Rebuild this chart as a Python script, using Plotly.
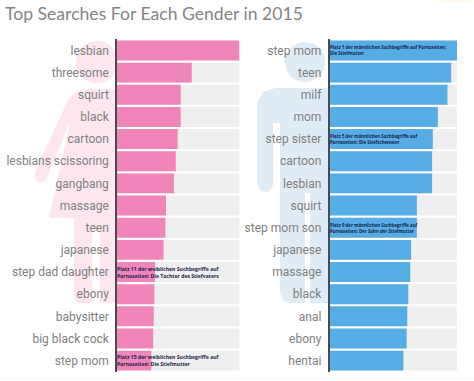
import plotly.graph_objects as go

W, H = 474, 381

female_terms = ["lesbian", "threesome", "squirt", "black", "cartoon", "lesbians scissoring", "gangbang",
                "massage", "teen", "japanese", "step dad daughter", "ebony", "babysitter", "big black cock", "step mom"]
female_values = [100, 61, 52, 52, 49.5, 48, 46.5, 40, 39.5, 38, 31, 30.5, 30, 29.5, 28]

male_terms = ["step mom", "teen", "milf", "mom", "step sister", "cartoon", "lesbian", "squirt", "step mom son",
              "japanese", "massage", "black", "anal", "ebony", "hentai"]
male_values = [100, 95.5, 92.5, 85, 81, 80.5, 80.5, 68.5, 68.5, 64, 63.3, 61.8, 61, 60.5, 58]

scale_max = 100

female_notes = {
    "step dad daughter": "Platz 11 der weiblichen Suchbegriffe auf<br>Pornoseiten: Die Tochter des Stiefvaters",
    "step mom": "Platz 15 der weiblichen Suchbegriffe auf<br>Pornoseiten: Die Stiefmutter",
}
male_notes = {
    "step mom": "Platz 1 der männlichen Suchbegriffe auf Pornoseiten:<br>Die Stiefmutter",
    "step sister": "Platz 5 der männlichen Suchbegriffe auf<br>Pornoseiten: Die Stiefschwester",
    "step mom son": "Platz 9 der männlichen Suchbegriffe auf<br>Pornoseiten: Der Sohn der Stiefmutter",
}

title_text = "Top Searches For Each Gender in 2015"

PINK, BLUE, TRACK = "#f085b9", "#56ade6", "#efefef"
PINK_BG, BLUE_BG = "#fde6f0", "#dfecf6"
LABEL = "#808080"


def px(x):
    return x / W


def py(y):
    return 1 - y / H


def path(points):
    return "M " + " L ".join(f"{px(x):.4f},{py(y):.4f}" for x, y in points) + " Z"


def smooth(d, color):
    return dict(type="path", xref="paper", yref="paper", path=d, fillcolor=color,
                line=dict(width=0), layer="below")


def head(cx, cy, r, color):
    return dict(type="circle", xref="paper", yref="paper", x0=px(cx - r), x1=px(cx + r),
                y0=py(cy + r), y1=py(cy - r), fillcolor=color, line=dict(width=0), layer="below")


def band(x0, x1, y0, y1, color):
    return dict(type="rect", xref="paper", yref="paper", x0=px(x0), x1=px(x1), y0=py(y1), y1=py(y0),
                fillcolor=color, line=dict(width=0), layer="below")


female_body = [(88, 89), (76, 92), (68, 100), (35, 172), (35, 179), (40, 183), (46, 180), (70, 122), (49, 218), (74, 218),
               (74, 298), (78, 303), (92, 303), (92, 230), (100, 230), (100, 303), (118, 303), (118, 89)]
male_body = [(275, 88), (263, 92), (257, 102), (257, 184), (261, 191), (268, 192), (273, 186), (273, 123), (280, 123),
             (280, 292), (283, 300), (290, 303), (305, 303), (305, 193), (310, 193), (310, 303), (330, 303), (330, 88)]

shapes = [
    head(97, 62, 21, PINK_BG), smooth(path(female_body), PINK_BG),
    head(305, 62, 20, BLUE_BG), smooth(path(male_body), BLUE_BG),
    band(437, 472, 0, 2, "#fffbe8"),
    band(0, 474, 378, 379, "#f7f7f7"),
]

fig = go.Figure()
panels = [
    (female_terms, female_values, PINK, "x", "y"),
    (male_terms, male_values, BLUE, "x2", "y2"),
]
for terms, values, color, xa, ya in panels:
    fig.add_bar(y=terms, x=[scale_max] * len(terms), orientation="h", marker=dict(color=TRACK, line_width=0),
                xaxis=xa, yaxis=ya, showlegend=False, hoverinfo="skip")
    fig.add_bar(y=terms, x=values, orientation="h", marker=dict(color=color, line_width=0),
                xaxis=xa, yaxis=ya, showlegend=False)

annotations = []
for notes, xa, ya, size in [(female_notes, "x", "y", 5.1), (male_notes, "x2", "y2", 4.4)]:
    for term, text in notes.items():
        annotations.append(dict(x=0, y=term, xref=xa, yref=ya, text=text, showarrow=False, xanchor="left",
                                yanchor="middle", align="left", xshift=-1, borderpad=0,
                                font=dict(family="Open Sans", size=size, color="#1a1f4a", weight=700)))

y_domain = [py(371.7), py(39.4)]


def xaxis(domain, anchor):
    return dict(domain=domain, range=[0, scale_max], visible=False, anchor=anchor, fixedrange=True)


def yaxis(terms, anchor):
    return dict(domain=y_domain, categoryorder="array", categoryarray=terms, range=[14.5, -0.5], anchor=anchor,
                showline=True, linecolor="#4a4a55", linewidth=1.5, showgrid=False, zeroline=False,
                ticks="", ticklabelstandoff=4, automargin=False,
                tickfont=dict(family="Roboto", size=12, color=LABEL))


fig.update_layout(
    width=W, height=H, margin=dict(l=0, r=0, t=0, b=0), autosize=False,
    paper_bgcolor="white", plot_bgcolor="rgba(0,0,0,0)",
    barmode="overlay", bargap=0.1,
    title=dict(text=title_text, x=5 / W, xref="paper", xanchor="left", y=py(14), yref="paper", yanchor="middle",
               font=dict(family="Lato", size=17.6, color="#858585")),
    xaxis=xaxis([px(117), px(239.5)], "y"),
    yaxis=yaxis(female_terms, "x"),
    xaxis2=xaxis([px(329.5), px(457)], "y2"),
    yaxis2=yaxis(male_terms, "x2"),
    shapes=shapes, annotations=annotations,
)

fig.write_html("out.html", config=dict(displayModeBar=False),
               post_script="document.body.style.margin='0';document.body.style.overflow='hidden';")
